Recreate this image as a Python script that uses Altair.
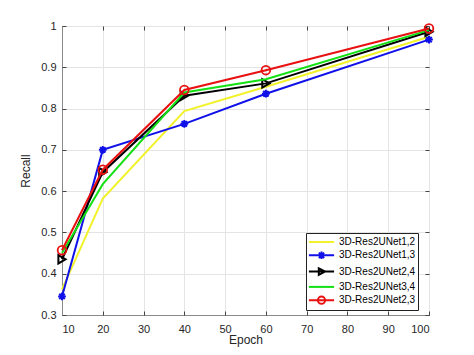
import altair as alt
import pandas as pd

epochs = [10, 20, 40, 60, 100]
series_names = ["3D-Res2UNet1,2", "3D-Res2UNet1,3", "3D-Res2UNet2,4", "3D-Res2UNet3,4", "3D-Res2UNet2,3"]
recall_12 = [0.362, 0.582, 0.794, 0.853, 0.974]
recall_13 = [0.345, 0.700, 0.763, 0.836, 0.967]
recall_24 = [0.435, 0.646, 0.831, 0.861, 0.986]
recall_34 = [0.450, 0.617, 0.839, 0.871, 0.990]
recall_23 = [0.457, 0.652, 0.845, 0.893, 0.994]
colors = ["#f2f22a", "#1010e8", "#000000", "#14e014", "#e81010"]
x_ticks = [10, 20, 30, 40, 50, 60, 70, 80, 90, 100]
y_ticks = [0.3, 0.4, 0.5, 0.6, 0.7, 0.8, 0.9, 1.0]

all_values = [recall_12, recall_13, recall_24, recall_34, recall_23]
rows = []
for name, vals in zip(series_names, all_values):
    for e, v in zip(epochs, vals):
        rows.append({"Epoch": e, "Recall": v, "series": name})
df = pd.DataFrame(rows)

W, H = 367, 289

ASTERISK = "M-1,0H1M0,-1V1M-0.7,-0.7L0.7,0.7M-0.7,0.7L0.7,-0.7"
leg_shapes = [
    "M-2.1,0H2.1",
    "M-2.1,0H2.1M-0.62,0H0.62M0,-0.62V0.62M-0.44,-0.44L0.44,0.44M-0.44,0.44L0.44,-0.44",
    "M-2.1,0H2.1M-0.45,-0.55L0.6,0L-0.45,0.55Z",
    "M-2.1,0H2.1",
    "M-2.1,0H2.1M0.6,0A0.6,0.6 0 1,1 -0.6,0A0.6,0.6 0 1,1 0.6,0",
]

xs = alt.Scale(domain=[10, 100], nice=False)
ys = alt.Scale(domain=[0.3, 1.0], nice=False, zero=False)

x_axis = alt.Axis(values=x_ticks, title="Epoch", grid=True, ticks=False, labelPadding=8,
                  titlePadding=0)
y_axis = alt.Axis(values=y_ticks, title="Recall", grid=True, ticks=False, format="~g",
                  labelPadding=6, titlePadding=8)

def tick_axis(vals, orient, offset):
    return alt.Axis(values=vals, orient=orient, offset=offset, labels=False, grid=False,
                    domain=False, ticks=True, tickSize=4, tickColor="#444444", title=None)

X = alt.X("Epoch:Q", scale=xs, axis=None)
Y = alt.Y("Recall:Q", scale=ys, axis=None)

base = alt.Chart(df)
layers = []
marker_specs = {
    "3D-Res2UNet1,3": dict(shape=ASTERISK, size=60, filled=False, strokeWidth=2),
    "3D-Res2UNet2,4": dict(shape="triangle-right", size=70, filled=False, strokeWidth=2),
    "3D-Res2UNet2,3": dict(shape="circle", size=75, filled=False, strokeWidth=1.8),
}

# invisible layers carrying the axes (main + inward ticks on all four sides)
layers.append(base.mark_point(opacity=0).encode(
    x=alt.X("Epoch:Q", scale=xs, axis=x_axis), y=alt.Y("Recall:Q", scale=ys, axis=y_axis)))
layers.append(base.mark_point(opacity=0).encode(
    x=alt.X("Epoch:Q", scale=xs, axis=tick_axis(x_ticks, "top", -H)),
    y=alt.Y("Recall:Q", scale=ys, axis=tick_axis(y_ticks, "right", -W))))
layers.append(base.mark_point(opacity=0).encode(
    x=alt.X("Epoch:Q", scale=xs, axis=tick_axis(x_ticks, "bottom", -H)),
    y=alt.Y("Recall:Q", scale=ys, axis=tick_axis(y_ticks, "left", -W))))

for name, col in zip(series_names, colors):
    sub = base.transform_filter(alt.datum.series == name)
    layers.append(sub.mark_line(color=col, strokeWidth=2).encode(x=X, y=Y))
    if name in marker_specs:
        layers.append(sub.mark_point(color=col, opacity=1, **marker_specs[name]).encode(x=X, y=Y))

leg = alt.Legend(title=None, orient="none", legendX=244, legendY=207)
legend_layer = base.mark_point(opacity=0, filled=False).encode(
    x=X, y=Y,
    color=alt.Color("series:N", scale=alt.Scale(domain=series_names, range=colors), legend=leg),
    shape=alt.Shape("series:N", scale=alt.Scale(domain=series_names, range=leg_shapes), legend=leg),
)
layers.append(legend_layer)

chart = alt.layer(*layers).resolve_axis(x="independent", y="independent").properties(
    width=W, height=H,
    autosize=alt.AutoSizeParams(type="none"),
    padding={"left": 54, "top": 18, "right": 37, "bottom": 32},
).configure_view(
    stroke="#8a8a8a", strokeWidth=1
).configure_axis(
    labelFont="Liberation Sans", titleFont="Liberation Sans",
    labelFontSize=11, titleFontSize=12, labelColor="#262626", titleColor="#262626",
    titleFontWeight="normal", gridColor="#e4e4e4", gridWidth=1,
    domainColor="#8a8a8a", domainWidth=1,
).configure_legend(
    labelFont="Liberation Sans", labelFontSize=10, labelColor="#000000",
    symbolSize=144, symbolStrokeWidth=2, symbolFillColor="transparent",
    symbolOffset=6.5, labelOffset=10.5,
    strokeColor="#222222", fillColor="white", padding=2, rowPadding=0.3,
    offset=0,
)

chart.save("out.html", embed_options={"renderer": "svg", "actions": False})
